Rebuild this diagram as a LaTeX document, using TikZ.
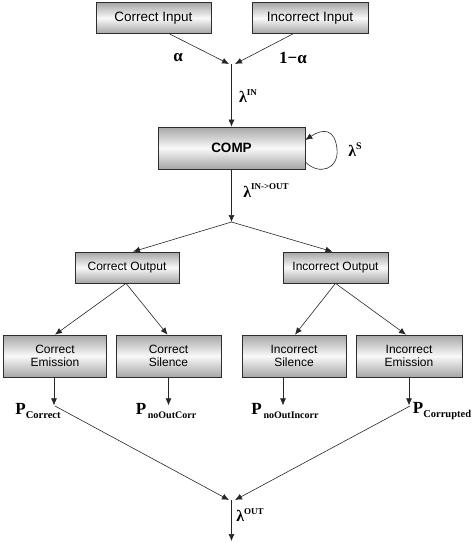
\documentclass[tikz,border=0pt]{standalone}
\usepackage{fontspec}
\setmainfont{Liberation Serif}
\setsansfont{Liberation Sans}
\usetikzlibrary{arrows.meta}
\begin{document}
\begin{tikzpicture}[x=1pt,y=-1pt,
  box/.style={draw=gray!35!black, line width=0.7pt, top color=gray!70, bottom color=gray!70, middle color=gray!5,
    inner sep=0pt, align=center, font=\sffamily\fontsize{12}{13.5}\selectfont},
  arr/.style={-{Latex[length=7pt,width=6pt]}, line width=0.6pt, draw=black!85},
  lab/.style={inner sep=0pt, font=\bfseries\fontsize{17}{17}\selectfont},
  plab/.style={inner sep=0pt, font=\bfseries\fontsize{17}{17}\selectfont},
]
\useasboundingbox (0,0) rectangle (474,543);
% boxes
\node[box, minimum width=115pt, minimum height=31pt, font=\sffamily\fontsize{13.5}{15}\selectfont] (ci) at (153.5,18) {Correct Input};
\node[box, minimum width=116pt, minimum height=31pt, font=\sffamily\fontsize{13.5}{15}\selectfont] (ii) at (310,18) {Incorrect Input};
\node[box, minimum width=147pt, minimum height=42pt, font=\sffamily\bfseries\fontsize{13.5}{15}\selectfont] (comp) at (231.5,148) {COMP};
\node[box, minimum width=104pt, minimum height=31pt] (co) at (127,267.5) {Correct Output};
\node[box, minimum width=105pt, minimum height=31pt] (io) at (335.5,267.5) {Incorrect Output};
\node[box, minimum width=103pt, minimum height=42pt] (ce) at (55,356) {Correct\\Emission};
\node[box, minimum width=105pt, minimum height=42pt] (cs) at (168.5,356) {Correct\\Silence};
\node[box, minimum width=104pt, minimum height=42pt] (is) at (294,356) {Incorrect\\Silence};
\node[box, minimum width=106pt, minimum height=42pt] (ie) at (409,356) {Incorrect\\Emission};
% junction coordinates
\coordinate (j1l) at (229,64);
\coordinate (j1r) at (235,64);
\coordinate (j1) at (231.5,64);
\coordinate (j2) at (231.5,222);
\coordinate (j3l) at (229,500);
\coordinate (j3r) at (235,500);
\coordinate (j3) at (231.5,500);
\coordinate (outend) at (231.5,541);
\coordinate (loopR) at (337,149);
% labels
\node[lab] (alpha) at (178,58) {α};
\node[lab] (onema) at (293,58) {1−α};
\node[inner sep=0pt] (lin) at (248,96) {\bfseries\fontsize{16}{16}\selectfont λ\raisebox{7pt}{\fontsize{9}{9}\selectfont IN}};
\node[inner sep=0pt] (ls) at (355,150) {\bfseries\fontsize{16}{16}\selectfont λ\raisebox{7pt}{\fontsize{10}{10}\selectfont S}};
\node[inner sep=0pt] (linout) at (266,191) {\bfseries\fontsize{16}{16}\selectfont λ\raisebox{8pt}{\fontsize{9}{9}\selectfont IN->OUT}};
\node[inner sep=0pt] (lout) at (250,515) {\bfseries\fontsize{16}{16}\selectfont λ\raisebox{7pt}{\fontsize{9}{9}\selectfont OUT}};
\node[plab] (pc) at (38,411) {P\raisebox{-4pt}{\fontsize{10.5}{10.5}\selectfont Correct}};
\node[plab] (pnc) at (166,411) {P\raisebox{-4pt}{\fontsize{10}{10}\selectfont\,noOutCorr}};
\node[plab] (pni) at (285,411) {P\raisebox{-4pt}{\fontsize{10}{10}\selectfont\,noOutIncorr}};
\node[plab] (pcr) at (442,411) {P\raisebox{-4pt}{\fontsize{10.5}{10.5}\selectfont Corrupted}};
% connectors
\draw[arr] ([xshift=16pt]ci.south) -- (j1l);
\draw[arr] ([xshift=-17pt]ii.south) -- (j1r);
\draw[arr] (j1) -- (comp.north);
\draw[arr] ([yshift=-14pt]comp.east) .. controls +(14,14) and +(2,20) .. (loopR) .. controls +(-2,-20) and +(18,-12) .. ([yshift=8pt]comp.east);
\draw[arr] (comp.south) -- (j2);
\draw[arr] (j2) -- ([xshift=6pt]co.north);
\draw[arr] (j2) -- ([xshift=-3pt]io.north);
\draw[arr] ([xshift=-1pt]co.south) -- (ce.north);
\draw[arr] ([xshift=-1pt]co.south) -- ([xshift=-1pt]cs.north);
\draw[arr] (io.south) -- ([xshift=1pt]is.north);
\draw[arr] (io.south) -- ([xshift=-3pt]ie.north);
\draw[arr] ([xshift=-1pt]ce.south) -- ++(0,28);
\draw[arr] (cs.south) -- ++(0,28);
\draw[arr] ([xshift=-11pt]is.south) -- ++(0,28);
\draw[arr] (ie.south) -- ++(0,28);
\draw[arr] (55,406) -- (j3l);
\draw[arr] (410,406) -- (j3r);
\draw[arr] (j3) -- (outend);
\end{tikzpicture}
\end{document}
